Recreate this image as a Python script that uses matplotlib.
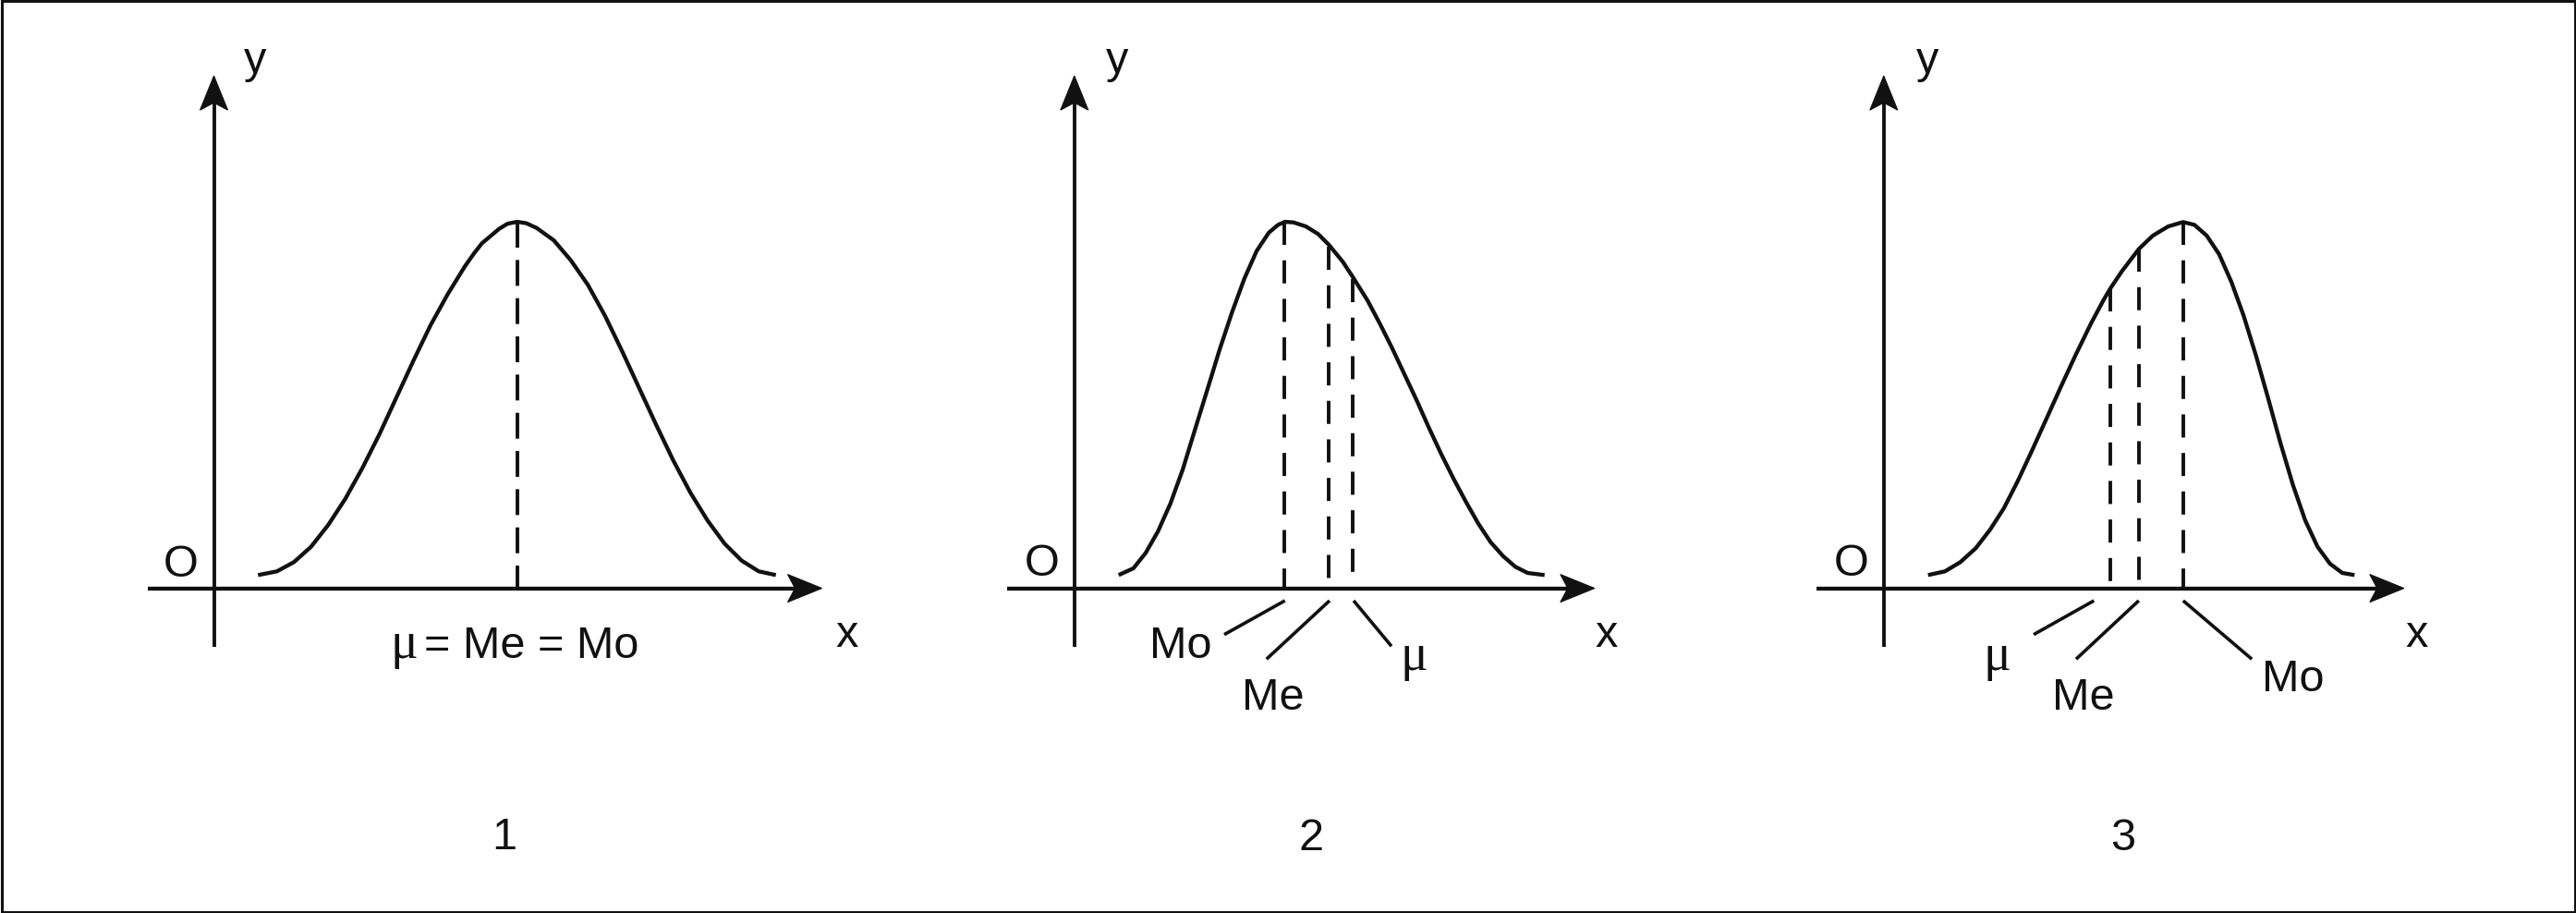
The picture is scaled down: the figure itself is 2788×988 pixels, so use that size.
import matplotlib
matplotlib.use("Agg")
import matplotlib.pyplot as plt
from matplotlib.patches import Rectangle, Polygon

# ---------------- data (panel units: origin at axis crossing, 1 unit = 100 px) ----
panel_numbers = ["1", "2", "3"]

# panel 1 : symmetric distribution
curve1_x = [0.478, 0.681, 0.866, 1.051, 1.236, 1.421, 1.606, 1.791, 1.976, 2.161,
            2.346, 2.531, 2.716, 2.816, 2.901, 3.086, 3.178, 3.282, 3.382, 3.493,
            3.678, 3.863, 4.048, 4.233, 4.418, 4.603, 4.788, 4.972, 5.158, 5.343,
            5.527, 5.712, 5.897, 6.082]
curve1_y = [0.143, 0.183, 0.283, 0.449, 0.683, 0.966, 1.299, 1.666, 2.066, 2.466,
            2.849, 3.183, 3.483, 3.625, 3.733, 3.889, 3.945, 3.966, 3.950, 3.899,
            3.766, 3.549, 3.283, 2.949, 2.566, 2.166, 1.766, 1.383, 1.033, 0.733,
            0.483, 0.299, 0.183, 0.143]

# panel 2 : right (positive) skew
curve2_x = [0.479, 0.639, 0.772, 0.905, 1.039, 1.172, 1.305, 1.439, 1.572, 1.705,
            1.839, 1.972, 2.105, 2.205, 2.279, 2.372, 2.505, 2.639, 2.755, 2.905,
            3.015, 3.172, 3.305, 3.439, 3.572, 3.705, 3.839, 3.972, 4.105, 4.239,
            4.372, 4.505, 4.639, 4.772, 4.905, 5.089]
curve2_y = [0.143, 0.216, 0.383, 0.616, 0.916, 1.283, 1.716, 2.149, 2.583, 2.983,
            3.349, 3.649, 3.849, 3.933, 3.966, 3.959, 3.916, 3.833, 3.716, 3.533,
            3.366, 3.116, 2.866, 2.599, 2.316, 2.033, 1.733, 1.449, 1.183, 0.933,
            0.699, 0.499, 0.349, 0.233, 0.166, 0.143]

# panel 3 : left (negative) skew
curve3_x = [0.479, 0.662, 0.829, 0.995, 1.150, 1.300, 1.450, 1.595, 1.745, 1.912,
            2.079, 2.245, 2.379, 2.455, 2.579, 2.762, 2.912, 3.079, 3.239, 3.362,
            3.495, 3.629, 3.762, 3.895, 4.029, 4.162, 4.295, 4.429, 4.562, 4.695,
            4.829, 4.962, 5.095]
curve3_y = [0.143, 0.183, 0.283, 0.433, 0.633, 0.866, 1.160, 1.470, 1.800, 2.170,
            2.530, 2.870, 3.120, 3.249, 3.433, 3.673, 3.816, 3.916, 3.963, 3.933,
            3.816, 3.616, 3.316, 2.949, 2.516, 2.049, 1.566, 1.116, 0.733, 0.449,
            0.266, 0.166, 0.143]

# statistic positions (x) and height of the curve there (dashed lines)
stats1_x = [3.280]
stats1_h = [3.966]
stats2_x = [2.274, 2.755, 3.015]          # Mo, Me, mu
stats2_h = [3.966, 3.699, 3.349]
stats3_x = [2.455, 2.762, 3.239]          # mu, Me, Mo
stats3_h = [3.249, 3.673, 3.963]

# ---------------- layout ----------------------------------------------------------
W, H, DPI = 27.88, 9.88, 100
ORIGIN_Y_PX = 636.6
PANEL_ORIGIN_X_PX = [231.5, 1162.8, 2038.8]
XAXIS_END = [(-0.72, 6.58), (-0.73, 5.63), (-0.725, 5.63)]
YAXIS_END = (-0.63, 5.545)

FS = 35
INK = "#111111"
SANS = ["Liberation Sans", "DejaVu Sans"]
SERIF = ["Liberation Serif", "DejaVu Serif"]

fig = plt.figure(figsize=(W, H), dpi=DPI)
fig.patch.set_facecolor("white")


def make_axes(ox_px):
    left_px, width_px = ox_px - 200, 900
    ax = fig.add_axes([left_px / (W * DPI), 0, width_px / (W * DPI), 1])
    ax.set_xlim(-2.0, 7.0)
    ax.set_ylim((ORIGIN_Y_PX - H * DPI) / 100.0, ORIGIN_Y_PX / 100.0)
    ax.axis("off")
    ax.patch.set_alpha(0)
    return ax


LW = 3.1
HEAD_L, HEAD_W, NOTCH = 0.37, 0.15, 0.29


def draw_frame(ax, xa):
    # x axis
    x0, x1 = xa
    ax.plot([x0, x1 - NOTCH], [0, 0], color=INK, lw=LW, solid_capstyle="butt",
            clip_on=False)
    ax.add_patch(Polygon([(x1, 0), (x1 - HEAD_L, HEAD_W), (x1 - NOTCH, 0),
                          (x1 - HEAD_L, -HEAD_W)], closed=True, facecolor=INK,
                         edgecolor=INK, lw=0.8, clip_on=False))
    # y axis
    y0, y1 = YAXIS_END
    ax.plot([0, 0], [y0, y1 - NOTCH], color=INK, lw=LW * 0.9,
            solid_capstyle="butt", clip_on=False)
    ax.add_patch(Polygon([(0, y1), (HEAD_W, y1 - HEAD_L), (0, y1 - NOTCH),
                          (-HEAD_W, y1 - HEAD_L)], closed=True, facecolor=INK,
                         edgecolor=INK, lw=0.8, clip_on=False))


def txt(ax, x, y, s, ha="center", fam=SANS, size=FS):
    ax.text(x, y, s, ha=ha, va="baseline", fontsize=size, family=fam,
            color=INK, clip_on=False)


curves = [(curve1_x, curve1_y), (curve2_x, curve2_y), (curve3_x, curve3_y)]
stats = [(stats1_x, stats1_h), (stats2_x, stats2_h), (stats3_x, stats3_h)]
DLW = 2.8
dash_styles = [(0, (7.2, 3.43)), (0, (6.43, 4.29)), (0, (6.43, 4.29))]

# leader lines for the statistic labels (panel units)
leaders = [
    [],
    [((2.279, -0.134), (1.622, -0.501)),
     ((2.762, -0.134), (2.079, -0.767)),
     ((3.022, -0.134), (3.432, -0.627))],
    [((2.275, -0.134), (1.622, -0.501)),
     ((2.760, -0.134), (2.081, -0.767)),
     ((3.240, -0.134), (3.984, -0.767))],
]

axes = []
for i, ox in enumerate(PANEL_ORIGIN_X_PX):
    ax = make_axes(ox)
    axes.append(ax)
    draw_frame(ax, XAXIS_END[i])
    cx, cy = curves[i]
    ax.plot(cx, cy, color=INK, lw=LW, solid_capstyle="butt",
            solid_joinstyle="round", clip_on=False)
    sx, sh = stats[i]
    for x, h in zip(sx, sh):
        ax.plot([x, x], [h, 0], color=INK, lw=DLW,
                linestyle=dash_styles[i], dash_capstyle="butt", clip_on=False)
    for (p, q) in leaders[i]:
        ax.plot([p[0], q[0]], [p[1], q[1]], color=INK, lw=2.6,
                solid_capstyle="butt", clip_on=False)

# axis letters
O_pos = [(-0.355, 0.13), (-0.355, 0.14), (-0.348, 0.14)]
y_pos = [(0.443, 5.58), (0.462, 5.58), (0.468, 5.58)]
x_pos = [(6.852, -0.634), (5.762, -0.634), (5.770, -0.634)]
num_pos = [(3.145, -2.827), (2.561, -2.834), (2.592, -2.834)]
for i, ax in enumerate(axes):
    txt(ax, *O_pos[i], "O")
    txt(ax, *y_pos[i], "y")
    txt(ax, *x_pos[i], "x")
    txt(ax, *num_pos[i], panel_numbers[i])

# panel 1 statistic label
txt(axes[0], 2.055, -0.751, "μ", fam=SERIF, size=40)
txt(axes[0], 2.278, -0.751, "= Me = Mo", ha="left")

# panel 2 labels
txt(axes[1], 1.147, -0.751, "Mo")
txt(axes[1], 2.150, -1.317, "Me")
txt(axes[1], 3.678, -0.880, "μ", fam=SERIF, size=40)

# panel 3 labels
txt(axes[2], 1.223, -0.880, "μ", fam=SERIF, size=40)
txt(axes[2], 2.158, -1.317, "Me")
txt(axes[2], 4.428, -1.117, "Mo")

# outer frame
fig.patches.append(Rectangle((1.5 / (W * DPI), 1.5 / (H * DPI)),
                             1 - 3 / (W * DPI), 1 - 3 / (H * DPI),
                             transform=fig.transFigure, fill=False,
                             lw=2.2, edgecolor=INK))

fig.savefig("out.png", dpi=DPI, facecolor="white")
